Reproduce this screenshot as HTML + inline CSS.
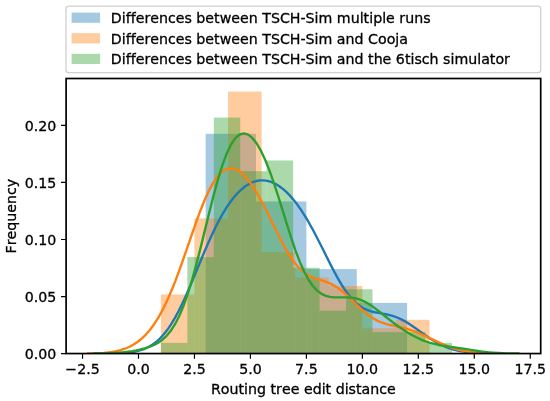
<!DOCTYPE html>
<html lang="en"><head><meta charset="utf-8"><title>Routing tree edit distance</title>
<style>
html,body{margin:0;padding:0;background:#fff;}
body{width:550px;height:401px;overflow:hidden;}
svg{display:block;}
svg text{font-variant-ligatures:none;font-kerning:none;font-family:"DejaVu Sans","Liberation Sans",sans-serif;font-size:14.2px;fill:#000;stroke:#000;stroke-width:0.3px;}
</style></head><body>
<svg width="550" height="401" viewBox="0 0 550 401">
<defs><clipPath id="ax"><rect x="66.10" y="78.50" width="474.60" height="275.05"/></clipPath></defs>
<rect x="0" y="0" width="550" height="401" fill="#fff"/>
<g clip-path="url(#ax)">
<rect x="205.66" y="133.81" width="50.37" height="219.79" fill="#1f77b4" fill-opacity="0.4"/>
<rect x="256.02" y="201.44" width="50.37" height="152.16" fill="#1f77b4" fill-opacity="0.4"/>
<rect x="306.39" y="269.07" width="50.37" height="84.53" fill="#1f77b4" fill-opacity="0.4"/>
<rect x="356.75" y="302.88" width="50.37" height="50.72" fill="#1f77b4" fill-opacity="0.4"/>
<rect x="160.88" y="294.43" width="33.58" height="59.17" fill="#ff7f0e" fill-opacity="0.4"/>
<rect x="194.46" y="218.35" width="33.58" height="135.25" fill="#ff7f0e" fill-opacity="0.4"/>
<rect x="228.04" y="91.55" width="33.58" height="262.05" fill="#ff7f0e" fill-opacity="0.4"/>
<rect x="261.62" y="252.16" width="33.58" height="101.44" fill="#ff7f0e" fill-opacity="0.4"/>
<rect x="295.20" y="277.52" width="33.58" height="76.08" fill="#ff7f0e" fill-opacity="0.4"/>
<rect x="328.77" y="285.97" width="33.58" height="67.63" fill="#ff7f0e" fill-opacity="0.4"/>
<rect x="362.35" y="328.24" width="33.58" height="25.36" fill="#ff7f0e" fill-opacity="0.4"/>
<rect x="395.93" y="319.79" width="33.58" height="33.81" fill="#ff7f0e" fill-opacity="0.4"/>
<rect x="160.88" y="342.87" width="26.46" height="10.73" fill="#2ca02c" fill-opacity="0.4"/>
<rect x="187.34" y="257.04" width="26.46" height="96.56" fill="#2ca02c" fill-opacity="0.4"/>
<rect x="213.80" y="117.56" width="26.45" height="236.04" fill="#2ca02c" fill-opacity="0.4"/>
<rect x="240.25" y="171.20" width="26.46" height="182.40" fill="#2ca02c" fill-opacity="0.4"/>
<rect x="266.71" y="160.47" width="26.45" height="193.13" fill="#2ca02c" fill-opacity="0.4"/>
<rect x="293.16" y="267.77" width="26.45" height="85.83" fill="#2ca02c" fill-opacity="0.4"/>
<rect x="319.62" y="310.68" width="26.46" height="42.92" fill="#2ca02c" fill-opacity="0.4"/>
<rect x="346.07" y="289.22" width="26.45" height="64.38" fill="#2ca02c" fill-opacity="0.4"/>
<rect x="372.53" y="332.14" width="26.45" height="21.46" fill="#2ca02c" fill-opacity="0.4"/>
<rect x="398.98" y="332.14" width="26.45" height="21.46" fill="#2ca02c" fill-opacity="0.4"/>
<rect x="425.44" y="342.87" width="26.46" height="10.73" fill="#2ca02c" fill-opacity="0.4"/>
<polyline points="123.11,353.02 126.81,352.73 130.51,352.32 134.22,351.75 137.92,350.97 141.62,349.93 145.32,348.56 149.03,346.79 152.73,344.55 156.43,341.77 160.13,338.38 163.84,334.33 167.54,329.57 171.24,324.09 174.94,317.89 178.65,311.00 182.35,303.48 186.05,295.42 189.76,286.94 193.46,278.16 197.16,269.23 200.86,260.28 204.57,251.46 208.27,242.90 211.97,234.71 215.67,226.98 219.38,219.77 223.08,213.14 226.78,207.12 230.48,201.72 234.19,196.94 237.89,192.78 241.59,189.23 245.29,186.29 249.00,183.94 252.70,182.19 256.40,181.01 260.10,180.41 263.81,180.38 267.51,180.91 271.21,181.99 274.92,183.61 278.62,185.77 282.32,188.45 286.02,191.66 289.73,195.38 293.43,199.61 297.13,204.34 300.83,209.58 304.54,215.30 308.24,221.47 311.94,228.05 315.64,234.99 319.35,242.20 323.05,249.57 326.75,257.01 330.45,264.37 334.16,271.52 337.86,278.32 341.56,284.64 345.26,290.37 348.97,295.44 352.67,299.79 356.37,303.39 360.08,306.28 363.78,308.52 367.48,310.18 371.18,311.38 374.89,312.25 378.59,312.93 382.29,313.54 385.99,314.22 389.70,315.06 393.40,316.13 397.10,317.48 400.80,319.14 404.51,321.09 408.21,323.31 411.91,325.73 415.61,328.30 419.32,330.95 423.02,333.61 426.72,336.21 430.42,338.69 434.13,341.00 437.83,343.11 441.53,345.00 445.24,346.66 448.94,348.08 452.64,349.28 456.34,350.27 460.05,351.07 463.75,351.71 467.45,352.21 471.15,352.60 474.86,352.89 478.56,353.10 482.26,353.26 485.96,353.37 489.67,353.45" fill="none" stroke="#1f77b4" stroke-width="2.35" stroke-linejoin="round" stroke-linecap="butt"/>
<polyline points="86.96,353.49 91.17,353.41 95.37,353.29 99.58,353.10 103.79,352.83 107.99,352.44 112.20,351.88 116.41,351.11 120.61,350.08 124.82,348.72 129.03,346.97 133.23,344.75 137.44,341.99 141.65,338.62 145.85,334.54 150.06,329.68 154.27,323.97 158.47,317.33 162.68,309.72 166.89,301.12 171.10,291.55 175.30,281.07 179.51,269.81 183.72,257.95 187.92,245.76 192.13,233.51 196.34,221.54 200.54,210.19 204.75,199.77 208.96,190.57 213.16,182.82 217.37,176.66 221.58,172.20 225.78,169.43 229.99,168.32 234.20,168.78 238.40,170.69 242.61,173.93 246.82,178.35 251.02,183.84 255.23,190.26 259.44,197.46 263.64,205.31 267.85,213.61 272.06,222.19 276.26,230.79 280.47,239.19 284.68,247.12 288.88,254.36 293.09,260.72 297.30,266.07 301.51,270.39 305.71,273.72 309.92,276.19 314.13,278.00 318.33,279.42 322.54,280.70 326.75,282.12 330.95,283.87 335.16,286.11 339.37,288.91 343.57,292.25 347.78,296.03 351.99,300.09 356.19,304.26 360.40,308.32 364.61,312.11 368.81,315.47 373.02,318.33 377.23,320.65 381.43,322.48 385.64,323.88 389.85,324.98 394.05,325.89 398.26,326.75 402.47,327.68 406.67,328.75 410.88,330.02 415.09,331.51 419.29,333.21 423.50,335.09 427.71,337.08 431.92,339.13 436.12,341.16 440.33,343.11 444.54,344.93 448.74,346.57 452.95,348.03 457.16,349.27 461.36,350.31 465.57,351.15 469.78,351.82 473.98,352.34 478.19,352.72 482.40,353.01 486.60,353.21 490.81,353.35 495.02,353.44 499.22,353.50 503.43,353.54" fill="none" stroke="#ff7f0e" stroke-width="2.35" stroke-linejoin="round" stroke-linecap="butt"/>
<polyline points="93.23,353.54 97.53,353.50 101.84,353.44 106.14,353.33 110.45,353.18 114.76,352.97 119.06,352.67 123.37,352.28 127.68,351.78 131.98,351.16 136.29,350.40 140.59,349.48 144.90,348.37 149.21,346.99 153.51,345.24 157.82,342.97 162.13,339.99 166.43,336.04 170.74,330.85 175.05,324.17 179.35,315.76 183.66,305.47 187.96,293.24 192.27,279.17 196.58,263.51 200.88,246.66 205.19,229.14 209.50,211.58 213.80,194.63 218.11,178.94 222.41,165.09 226.72,153.51 231.03,144.49 235.33,138.16 239.64,134.50 243.95,133.40 248.25,134.68 252.56,138.18 256.86,143.73 261.17,151.20 265.48,160.46 269.78,171.33 274.09,183.57 278.40,196.84 282.70,210.71 287.01,224.68 291.32,238.21 295.62,250.83 299.93,262.12 304.23,271.81 308.54,279.78 312.85,286.01 317.15,290.62 321.46,293.81 325.77,295.81 330.07,296.91 334.38,297.36 338.68,297.43 342.99,297.36 347.30,297.39 351.60,297.71 355.91,298.46 360.22,299.74 364.52,301.60 368.83,304.00 373.14,306.86 377.44,310.07 381.75,313.49 386.05,316.98 390.36,320.43 394.67,323.75 398.97,326.90 403.28,329.84 407.59,332.56 411.89,335.05 416.20,337.30 420.50,339.30 424.81,341.04 429.12,342.51 433.42,343.73 437.73,344.73 442.04,345.55 446.34,346.25 450.65,346.87 454.96,347.48 459.26,348.10 463.57,348.75 467.87,349.42 472.18,350.09 476.49,350.74 480.79,351.34 485.10,351.88 489.41,352.33 493.71,352.69 498.02,352.98 502.32,353.19 506.63,353.34 510.94,353.44 515.24,353.50 519.55,353.54" fill="none" stroke="#2ca02c" stroke-width="2.35" stroke-linejoin="round" stroke-linecap="butt"/>
</g>
<rect x="66.10" y="78.50" width="474.60" height="275.05" fill="none" stroke="#000" stroke-width="1.7"/>
<text x="82.54" y="374.3" text-anchor="middle">−2.5</text>
<text x="138.50" y="374.3" text-anchor="middle">0.0</text>
<text x="194.46" y="374.3" text-anchor="middle">2.5</text>
<text x="250.43" y="374.3" text-anchor="middle">5.0</text>
<text x="306.39" y="374.3" text-anchor="middle">7.5</text>
<text x="362.35" y="374.3" text-anchor="middle">10.0</text>
<text x="418.31" y="374.3" text-anchor="middle">12.5</text>
<text x="474.28" y="374.3" text-anchor="middle">15.0</text>
<text x="530.24" y="374.3" text-anchor="middle">17.5</text>
<text x="56.3" y="359.00" text-anchor="end">0.00</text>
<text x="56.3" y="301.94" text-anchor="end">0.05</text>
<text x="56.3" y="244.88" text-anchor="end">0.10</text>
<text x="56.3" y="187.82" text-anchor="end">0.15</text>
<text x="56.3" y="130.76" text-anchor="end">0.20</text>
<path d="M82.54 353.55v5.1M138.50 353.55v5.1M194.46 353.55v5.1M250.43 353.55v5.1M306.39 353.55v5.1M362.35 353.55v5.1M418.31 353.55v5.1M474.28 353.55v5.1M530.24 353.55v5.1M66.10 353.60h-5.1M66.10 296.54h-5.1M66.10 239.48h-5.1M66.10 182.42h-5.1M66.10 125.36h-5.1" stroke="#000" stroke-width="1.2" fill="none"/>
<text x="303.40" y="394.0" text-anchor="middle">Routing tree edit distance</text>
<text transform="translate(15.65 216.22) rotate(-90)" text-anchor="middle">Frequency</text>
<rect x="66" y="6.2" width="474.7" height="66.5" rx="2.8" ry="2.8" fill="#fff" stroke="#d0d0d0" stroke-width="1.3"/>
<rect x="71.6" y="12.60" width="28.5" height="10.2" fill="#1f77b4" fill-opacity="0.4"/>
<text x="110.8" y="22.90">Differences between TSCH-Sim multiple runs</text>
<rect x="71.6" y="33.20" width="28.5" height="10.2" fill="#ff7f0e" fill-opacity="0.4"/>
<text x="110.8" y="43.50">Differences between TSCH-Sim and Cooja</text>
<rect x="71.6" y="53.80" width="28.5" height="10.2" fill="#2ca02c" fill-opacity="0.4"/>
<text x="110.8" y="64.10">Differences between TSCH-Sim and the 6tisch simulator</text>
</svg>
</body></html>
